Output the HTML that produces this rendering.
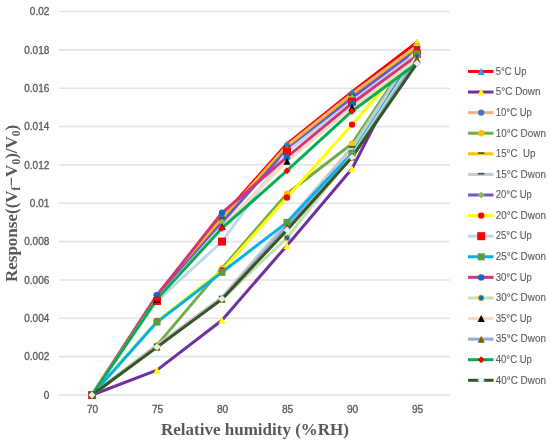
<!DOCTYPE html>
<html><head><meta charset="utf-8"><title>Response vs Relative humidity</title>
<style>
html,body{margin:0;padding:0;background:#fff;}
body{width:550px;height:442px;overflow:hidden;}
svg{display:block;} text{white-space:pre;}
.ax{font-family:"Liberation Sans",sans-serif;font-size:10px;fill:#595959;stroke:#595959;stroke-width:0.3px;}
.lg{font-family:"Liberation Sans",sans-serif;font-size:10px;fill:#595959;stroke:#595959;stroke-width:0.1px;}
.tt{font-family:"Liberation Serif",serif;font-weight:bold;fill:#595959;}
</style></head><body>
<svg width="550" height="442" viewBox="0 0 550 442">
<rect width="550" height="442" fill="#fff"/>
<g stroke="#E3E3E3" stroke-width="1.6">
<line x1="59" y1="395.00" x2="450" y2="395.00"/>
<line x1="59" y1="356.65" x2="450" y2="356.65"/>
<line x1="59" y1="318.30" x2="450" y2="318.30"/>
<line x1="59" y1="279.95" x2="450" y2="279.95"/>
<line x1="59" y1="241.60" x2="450" y2="241.60"/>
<line x1="59" y1="203.25" x2="450" y2="203.25"/>
<line x1="59" y1="164.90" x2="450" y2="164.90"/>
<line x1="59" y1="126.55" x2="450" y2="126.55"/>
<line x1="59" y1="88.20" x2="450" y2="88.20"/>
<line x1="59" y1="49.85" x2="450" y2="49.85"/>
<line x1="59" y1="11.50" x2="450" y2="11.50"/>
</g>
<g class="ax" text-anchor="end">
<text x="49.3" y="398.70">0</text>
<text x="49.3" y="360.35">0.002</text>
<text x="49.3" y="322.00">0.004</text>
<text x="49.3" y="283.65">0.006</text>
<text x="49.3" y="245.30">0.008</text>
<text x="49.3" y="206.95">0.01</text>
<text x="49.3" y="168.60">0.012</text>
<text x="49.3" y="130.25">0.014</text>
<text x="49.3" y="91.90">0.016</text>
<text x="49.3" y="53.55">0.018</text>
<text x="49.3" y="15.20">0.02</text>
</g>
<g class="ax" text-anchor="middle">
<text x="92.6" y="412.8" font-size="10.2">70</text>
<text x="157.6" y="412.8" font-size="10.2">75</text>
<text x="222.6" y="412.8" font-size="10.2">80</text>
<text x="287.6" y="412.8" font-size="10.2">85</text>
<text x="352.6" y="412.8" font-size="10.2">90</text>
<text x="417.6" y="412.8" font-size="10.2">95</text>
</g>
<g fill="none" stroke-width="3.0" stroke-linejoin="round" stroke-linecap="round">
<polyline stroke="#FF0000" points="92.0,395.0 157.0,295.3 222.0,216.7 287.0,143.8 352.0,92.0 417.0,42.2"/>
<polyline stroke="#7030A0" points="92.0,395.0 157.0,370.1 222.0,320.2 287.0,245.4 352.0,168.7 417.0,42.2"/>
<polyline stroke="#F4B183" points="92.0,395.0 157.0,295.3 222.0,218.6 287.0,145.7 352.0,94.0 417.0,46.0"/>
<polyline stroke="#70AD47" points="92.0,395.0 157.0,345.1 222.0,268.4 287.0,193.7 352.0,143.8 417.0,46.0"/>
<polyline stroke="#FFC000" points="92.0,395.0 157.0,295.3 222.0,218.6 287.0,147.6 352.0,95.9 417.0,47.9"/>
<polyline stroke="#C9C9C9" points="92.0,395.0 157.0,345.1 222.0,297.2 287.0,222.4 352.0,147.6 417.0,47.9"/>
<polyline stroke="#7056D2" points="92.0,395.0 157.0,297.2 222.0,222.4 287.0,149.6 352.0,97.8 417.0,49.9"/>
<polyline stroke="#FFFF00" points="92.0,395.0 157.0,321.2 222.0,270.4 287.0,197.5 352.0,124.6 417.0,49.9"/>
<polyline stroke="#BDD7EE" points="92.0,395.0 157.0,301.0 222.0,241.6 287.0,151.5 352.0,101.6 417.0,53.7"/>
<polyline stroke="#00B0F0" points="92.0,395.0 157.0,322.1 222.0,272.3 287.0,222.4 352.0,153.4 417.0,53.7"/>
<polyline stroke="#D43579" points="92.0,395.0 157.0,295.3 222.0,212.8 287.0,157.2 352.0,103.5 417.0,55.6"/>
<polyline stroke="#C5E0B4" points="92.0,395.0 157.0,347.1 222.0,299.1 287.0,237.8 352.0,155.3 417.0,55.6"/>
<polyline stroke="#F9D9C4" points="92.0,395.0 157.0,299.1 222.0,226.3 287.0,161.1 352.0,107.4 417.0,59.4"/>
<polyline stroke="#8EA9DB" points="92.0,395.0 157.0,347.1 222.0,299.1 287.0,226.3 352.0,157.2 417.0,59.4"/>
<polyline stroke="#00B050" points="92.0,395.0 157.0,299.1 222.0,228.2 287.0,170.7 352.0,111.2 417.0,63.3"/>
<polyline stroke="#375623" points="92.0,395.0 157.0,347.1 222.0,299.1 287.0,230.1 352.0,157.2 417.0,63.3"/>
</g>
<g>
<polygon points="157.0,291.9 160.6,298.9 153.4,298.9" fill="#1AA6E8"/>
<polygon points="222.0,213.3 225.6,220.3 218.4,220.3" fill="#1AA6E8"/>
<polygon points="287.0,140.4 290.6,147.4 283.4,147.4" fill="#1AA6E8"/>
<polygon points="352.0,88.6 355.6,95.6 348.4,95.6" fill="#1AA6E8"/>
<polygon points="417.0,38.8 420.6,45.8 413.4,45.8" fill="#1AA6E8"/>
<polygon points="157.0,366.7 160.6,373.7 153.4,373.7" fill="#FFFF00"/>
<polygon points="222.0,316.8 225.6,323.8 218.4,323.8" fill="#FFFF00"/>
<polygon points="287.0,242.0 290.6,249.0 283.4,249.0" fill="#FFFF00"/>
<polygon points="352.0,165.3 355.6,172.3 348.4,172.3" fill="#FFFF00"/>
<polygon points="417.0,38.8 420.6,45.8 413.4,45.8" fill="#FFFF00"/>
<circle cx="157.0" cy="295.3" r="3.2" fill="#4472C4"/>
<circle cx="222.0" cy="218.6" r="3.2" fill="#4472C4"/>
<circle cx="287.0" cy="145.7" r="3.2" fill="#4472C4"/>
<circle cx="352.0" cy="94.0" r="3.2" fill="#4472C4"/>
<circle cx="417.0" cy="46.0" r="3.2" fill="#4472C4"/>
<circle cx="157.0" cy="345.1" r="3.2" fill="#FFC000"/>
<circle cx="222.0" cy="268.4" r="3.2" fill="#FFC000"/>
<circle cx="287.0" cy="193.7" r="3.2" fill="#FFC000"/>
<circle cx="352.0" cy="143.8" r="3.2" fill="#FFC000"/>
<circle cx="417.0" cy="46.0" r="3.2" fill="#FFC000"/>
<rect x="153.8" y="293.8" width="6.4" height="1.6" fill="#375623"/>
<rect x="218.8" y="217.1" width="6.4" height="1.6" fill="#375623"/>
<rect x="283.8" y="146.1" width="6.4" height="1.6" fill="#375623"/>
<rect x="348.8" y="94.4" width="6.4" height="1.6" fill="#375623"/>
<rect x="413.8" y="46.4" width="6.4" height="1.6" fill="#375623"/>
<rect x="153.8" y="343.6" width="6.4" height="1.6" fill="#1F4E79"/>
<rect x="218.8" y="295.7" width="6.4" height="1.6" fill="#1F4E79"/>
<rect x="283.8" y="220.9" width="6.4" height="1.6" fill="#1F4E79"/>
<rect x="348.8" y="146.1" width="6.4" height="1.6" fill="#1F4E79"/>
<rect x="413.8" y="46.4" width="6.4" height="1.6" fill="#1F4E79"/>
<polygon points="157.0,293.7 160.5,297.2 157.0,300.7 153.5,297.2" fill="#8BC061"/>
<polygon points="222.0,218.9 225.5,222.4 222.0,225.9 218.5,222.4" fill="#8BC061"/>
<polygon points="287.0,146.1 290.5,149.6 287.0,153.1 283.5,149.6" fill="#8BC061"/>
<polygon points="352.0,94.3 355.5,97.8 352.0,101.3 348.5,97.8" fill="#8BC061"/>
<polygon points="417.0,46.4 420.5,49.9 417.0,53.4 413.5,49.9" fill="#8BC061"/>
<circle cx="157.0" cy="321.2" r="3.2" fill="#FF0000"/>
<circle cx="222.0" cy="270.4" r="3.2" fill="#FF0000"/>
<circle cx="287.0" cy="197.5" r="3.2" fill="#FF0000"/>
<circle cx="352.0" cy="124.6" r="3.2" fill="#FF0000"/>
<circle cx="417.0" cy="49.9" r="3.2" fill="#FF0000"/>
<rect x="153.0" y="297.0" width="8.0" height="8.0" fill="#FF0000"/>
<rect x="218.0" y="237.6" width="8.0" height="8.0" fill="#FF0000"/>
<rect x="283.0" y="147.5" width="8.0" height="8.0" fill="#FF0000"/>
<rect x="348.0" y="97.6" width="8.0" height="8.0" fill="#FF0000"/>
<rect x="413.0" y="49.7" width="8.0" height="8.0" fill="#FF0000"/>
<rect x="153.5" y="318.6" width="7.0" height="7.0" fill="#5B9A3D"/>
<rect x="218.5" y="268.8" width="7.0" height="7.0" fill="#5B9A3D"/>
<rect x="283.5" y="218.9" width="7.0" height="7.0" fill="#5B9A3D"/>
<rect x="348.5" y="149.9" width="7.0" height="7.0" fill="#5B9A3D"/>
<rect x="413.5" y="50.2" width="7.0" height="7.0" fill="#5B9A3D"/>
<circle cx="157.0" cy="295.3" r="3.2" fill="#0A6CC4"/>
<circle cx="222.0" cy="212.8" r="3.2" fill="#0A6CC4"/>
<circle cx="287.0" cy="157.2" r="3.2" fill="#0A6CC4"/>
<circle cx="352.0" cy="103.5" r="3.2" fill="#0A6CC4"/>
<circle cx="417.0" cy="55.6" r="3.2" fill="#0A6CC4"/>
<circle cx="157.0" cy="347.1" r="2.8" fill="#0A6CC4" stroke="#E0A800" stroke-width="0.9"/>
<circle cx="222.0" cy="299.1" r="2.8" fill="#0A6CC4" stroke="#E0A800" stroke-width="0.9"/>
<circle cx="287.0" cy="237.8" r="2.8" fill="#0A6CC4" stroke="#E0A800" stroke-width="0.9"/>
<circle cx="352.0" cy="155.3" r="2.8" fill="#0A6CC4" stroke="#E0A800" stroke-width="0.9"/>
<circle cx="417.0" cy="55.6" r="2.8" fill="#0A6CC4" stroke="#E0A800" stroke-width="0.9"/>
<polygon points="157.0,295.7 160.6,302.7 153.4,302.7" fill="#000000"/>
<polygon points="222.0,222.9 225.6,229.9 218.4,229.9" fill="#000000"/>
<polygon points="287.0,157.7 290.6,164.7 283.4,164.7" fill="#000000"/>
<polygon points="352.0,104.0 355.6,111.0 348.4,111.0" fill="#000000"/>
<polygon points="417.0,56.0 420.6,63.0 413.4,63.0" fill="#000000"/>
<polygon points="157.0,343.7 160.6,350.7 153.4,350.7" fill="#7F6000"/>
<polygon points="222.0,295.7 225.6,302.7 218.4,302.7" fill="#7F6000"/>
<polygon points="287.0,222.9 290.6,229.9 283.4,229.9" fill="#7F6000"/>
<polygon points="352.0,153.8 355.6,160.8 348.4,160.8" fill="#7F6000"/>
<polygon points="417.0,56.0 420.6,63.0 413.4,63.0" fill="#7F6000"/>
<polygon points="157.0,295.6 160.5,299.1 157.0,302.6 153.5,299.1" fill="#FF0000"/>
<polygon points="222.0,224.7 225.5,228.2 222.0,231.7 218.5,228.2" fill="#FF0000"/>
<polygon points="287.0,167.2 290.5,170.7 287.0,174.2 283.5,170.7" fill="#FF0000"/>
<polygon points="352.0,107.7 355.5,111.2 352.0,114.7 348.5,111.2" fill="#FF0000"/>
<polygon points="417.0,59.8 420.5,63.3 417.0,66.8 413.5,63.3" fill="#FF0000"/>
<polygon points="157.0,343.6 160.5,347.1 157.0,350.6 153.5,347.1" fill="#D5F7F7"/>
<polygon points="222.0,295.6 225.5,299.1 222.0,302.6 218.5,299.1" fill="#D5F7F7"/>
<polygon points="287.0,226.6 290.5,230.1 287.0,233.6 283.5,230.1" fill="#D5F7F7"/>
<polygon points="352.0,153.7 355.5,157.2 352.0,160.7 348.5,157.2" fill="#D5F7F7"/>
<polygon points="417.0,59.8 420.5,63.3 417.0,66.8 413.5,63.3" fill="#D5F7F7"/>
<rect x="88.1" y="391.1" width="7.8" height="7.8" fill="#E0201A"/>
<rect x="88.8" y="391.8" width="6.4" height="6.4" fill="#4A5E22"/>
<polygon points="92.0,391.5 95.5,395.0 92.0,398.5 88.5,395.0" fill="#D5F7F7"/>
</g>
<g>
<line x1="468" y1="71.45" x2="493.5" y2="71.45" stroke="#FF0000" stroke-width="3.0"/>
<polygon points="481.2,68.0 484.8,75.0 477.6,75.0" fill="#1AA6E8"/>
<text class="lg" x="495.8" y="74.75" textLength="30.6" lengthAdjust="spacingAndGlyphs" xml:space="preserve">5°C Up</text>
<line x1="468" y1="92.04" x2="493.5" y2="92.04" stroke="#7030A0" stroke-width="3.0"/>
<polygon points="481.2,88.6 484.8,95.6 477.6,95.6" fill="#FFFF00"/>
<text class="lg" x="495.8" y="95.34" textLength="44.7" lengthAdjust="spacingAndGlyphs" xml:space="preserve">5°C Down</text>
<line x1="468" y1="112.63" x2="493.5" y2="112.63" stroke="#F4B183" stroke-width="3.0"/>
<circle cx="481.2" cy="112.6" r="3.2" fill="#4472C4"/>
<text class="lg" x="495.8" y="115.93" textLength="36.0" lengthAdjust="spacingAndGlyphs" xml:space="preserve">10°C Up</text>
<line x1="468" y1="133.22" x2="493.5" y2="133.22" stroke="#70AD47" stroke-width="3.0"/>
<circle cx="481.2" cy="133.2" r="3.2" fill="#FFC000"/>
<text class="lg" x="495.8" y="136.52" textLength="50.1" lengthAdjust="spacingAndGlyphs" xml:space="preserve">10°C Down</text>
<line x1="468" y1="153.81" x2="493.5" y2="153.81" stroke="#FFC000" stroke-width="3.0"/>
<rect x="478.0" y="152.3" width="6.4" height="1.6" fill="#375623"/>
<text class="lg" x="495.8" y="157.11" textLength="39.5" lengthAdjust="spacingAndGlyphs" xml:space="preserve">15°C  Up</text>
<line x1="468" y1="174.40" x2="493.5" y2="174.40" stroke="#C9C9C9" stroke-width="3.0"/>
<rect x="478.0" y="172.9" width="6.4" height="1.6" fill="#1F4E79"/>
<text class="lg" x="495.8" y="177.70" textLength="50.1" lengthAdjust="spacingAndGlyphs" xml:space="preserve">15°C Dwon</text>
<line x1="468" y1="194.99" x2="493.5" y2="194.99" stroke="#7056D2" stroke-width="3.0"/>
<polygon points="481.2,191.5 484.7,195.0 481.2,198.5 477.7,195.0" fill="#8BC061"/>
<text class="lg" x="495.8" y="198.29" textLength="36.0" lengthAdjust="spacingAndGlyphs" xml:space="preserve">20°C Up</text>
<line x1="468" y1="215.58" x2="493.5" y2="215.58" stroke="#FFFF00" stroke-width="3.0"/>
<circle cx="481.2" cy="215.6" r="3.2" fill="#FF0000"/>
<text class="lg" x="495.8" y="218.88" textLength="50.1" lengthAdjust="spacingAndGlyphs" xml:space="preserve">20°C Dwon</text>
<line x1="468" y1="236.17" x2="493.5" y2="236.17" stroke="#BDD7EE" stroke-width="3.0"/>
<rect x="477.2" y="232.2" width="8.0" height="8.0" fill="#FF0000"/>
<text class="lg" x="495.8" y="239.47" textLength="36.0" lengthAdjust="spacingAndGlyphs" xml:space="preserve">25°C Up</text>
<line x1="468" y1="256.76" x2="493.5" y2="256.76" stroke="#00B0F0" stroke-width="3.0"/>
<rect x="477.7" y="253.3" width="7.0" height="7.0" fill="#5B9A3D"/>
<text class="lg" x="495.8" y="260.06" textLength="50.1" lengthAdjust="spacingAndGlyphs" xml:space="preserve">25°C Dwon</text>
<line x1="468" y1="277.35" x2="493.5" y2="277.35" stroke="#D43579" stroke-width="3.0"/>
<circle cx="481.2" cy="277.4" r="3.2" fill="#0A6CC4"/>
<text class="lg" x="495.8" y="280.65" textLength="36.0" lengthAdjust="spacingAndGlyphs" xml:space="preserve">30°C Up</text>
<line x1="468" y1="297.94" x2="493.5" y2="297.94" stroke="#C5E0B4" stroke-width="3.0"/>
<circle cx="481.2" cy="297.9" r="2.8" fill="#0A6CC4" stroke="#E0A800" stroke-width="0.9"/>
<text class="lg" x="495.8" y="301.24" textLength="50.1" lengthAdjust="spacingAndGlyphs" xml:space="preserve">30°C Dwon</text>
<line x1="468" y1="318.53" x2="493.5" y2="318.53" stroke="#F9D9C4" stroke-width="3.0"/>
<polygon points="481.2,315.1 484.8,322.1 477.6,322.1" fill="#000000"/>
<text class="lg" x="495.8" y="321.83" textLength="36.0" lengthAdjust="spacingAndGlyphs" xml:space="preserve">35°C Up</text>
<line x1="468" y1="339.12" x2="493.5" y2="339.12" stroke="#8EA9DB" stroke-width="3.0"/>
<polygon points="481.2,335.7 484.8,342.7 477.6,342.7" fill="#7F6000"/>
<text class="lg" x="495.8" y="342.42" textLength="50.1" lengthAdjust="spacingAndGlyphs" xml:space="preserve">35°C Dwon</text>
<line x1="468" y1="359.71" x2="493.5" y2="359.71" stroke="#00B050" stroke-width="3.0"/>
<polygon points="481.2,356.2 484.7,359.7 481.2,363.2 477.7,359.7" fill="#FF0000"/>
<text class="lg" x="495.8" y="363.01" textLength="36.0" lengthAdjust="spacingAndGlyphs" xml:space="preserve">40°C Up</text>
<line x1="468" y1="380.30" x2="493.5" y2="380.30" stroke="#375623" stroke-width="3.0"/>
<polygon points="481.2,376.8 484.7,380.3 481.2,383.8 477.7,380.3" fill="#D5F7F7"/>
<text class="lg" x="495.8" y="383.60" textLength="50.1" lengthAdjust="spacingAndGlyphs" xml:space="preserve">40°C Dwon</text>
</g>
<text class="tt" x="255" y="435.4" text-anchor="middle" font-size="17">Relative humidity (%RH)</text>
<text class="tt" transform="translate(17.4,203.4) rotate(-90)" text-anchor="middle" font-size="17">Response((V<tspan font-size="11.5" dy="2.5">f</tspan><tspan dy="-2.5">−V</tspan><tspan font-size="11.5" dy="2.5">0</tspan><tspan dy="-2.5">)/V</tspan><tspan font-size="11.5" dy="2.5">0</tspan><tspan dy="-2.5">)</tspan></text>
</svg></body></html>
